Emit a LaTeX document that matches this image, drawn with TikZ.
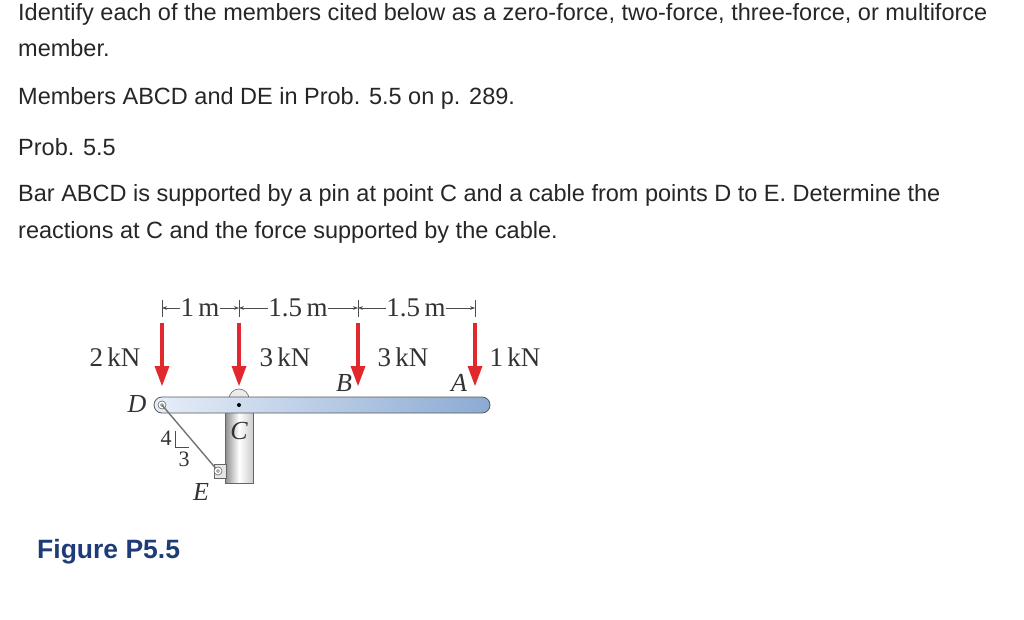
\documentclass[tikz,border=0pt]{standalone}
\usepackage{fontspec}
\setmainfont{Liberation Sans}
\newfontfamily\figfont{Liberation Serif}
\usetikzlibrary{arrows.meta}
\definecolor{fred}{RGB}{225,40,45}
\definecolor{barL}{RGB}{230,238,248}
\definecolor{barD}{RGB}{140,170,210}
\definecolor{figblue}{RGB}{30,60,120}
\begin{document}
\begin{tikzpicture}[x=1pt,y=-1pt,
  txt/.style={anchor=west,inner sep=0pt,font=\fontsize{23.5}{26}\selectfont,text=black!85},
  flab/.style={inner sep=0pt,font=\figfont\fontsize{27}{28}\selectfont,text=black!80},
  ilab/.style={flab,font=\figfont\itshape\fontsize{26}{28}\selectfont},
  force/.style={fred,line width=3.6pt},
  fhead/.style={fill=fred},
  dim/.style={black!70,line width=0.7pt}]
\useasboundingbox (0,0) rectangle (1024,620);
\node[txt] (t1) at (18,14) {Identify each of the members cited below as a zero-force, two-force, three-force, or multiforce};
\node[txt] (t2) at (18,48) {member.};
\node[txt] (t3) at (18,98) {Members ABCD and DE in Prob. 5.5 on p. 289.};
\node[txt] (t4) at (18,147) {Prob. 5.5};
\node[txt] (t5) at (18,195) {Bar ABCD is supported by a pin at point C and a cable from points D to E. Determine the};
\node[txt] (t6) at (18,232) {reactions at C and the force supported by the cable.};
\node[txt,font=\bfseries\fontsize{26.5}{28}\selectfont,text=figblue] (fig) at (37,552) {Figure P5.5};
% post
\shade[left color=black!45,right color=black!20,middle color=white,draw=black!60,line width=0.6pt] (225,405) rectangle (253,483);
% pin cap at C
\draw[black!60,fill=black!8,line width=0.6pt] (229,399) arc (180:360:10);
% bar
\shade[left color=barL,right color=barD,draw=black!65,line width=0.8pt,rounded corners=8pt] (154,397) rectangle (490,413);
\fill (239,405) circle (2);
% D pin
\draw[black!60,fill=white,line width=0.6pt] (162,405) circle (4);
\draw[black!60,line width=0.5pt] (162,405) circle (1.5);
\coordinate (D) at (162,405);
% E bracket
\draw[black!60,fill=black!10,line width=0.6pt] (214,464) rectangle (226,478);
\coordinate (E) at (218,471);
\draw[black!55,line width=1.4pt] (D) -- (E);
\draw[black!60,fill=white,line width=0.6pt] (E) circle (4);
\draw[black!60,line width=0.5pt] (E) circle (1.5);
% slope triangle
\draw[black!70,line width=0.7pt] (175,431) -- (175,447) -- (189,447);
\node[flab,font=\figfont\fontsize{22}{24}\selectfont] (n4) at (166,438) {4};
\node[flab,font=\figfont\fontsize{22}{24}\selectfont] (n3) at (184,459) {3};
% labels
\node[ilab] (lD) at (137,404) {D};
\node[ilab] (lC) at (239,431) {C};
\node[ilab] (lE) at (201,492) {E};
\node[ilab] (lB) at (344,383) {B};
\node[ilab] (lA) at (459,383) {A};
% forces
\foreach \x/\n in {162/1,239/2,358/3,475/4}{
  \coordinate (f\n) at (\x,323); \coordinate (f\n t) at (\x,386);
  \draw[force] (f\n) -- (\x,370);
  \fill[fhead] (\x-7.5,366) -- (\x+7.5,366) -- (f\n t) -- cycle;
}
\node[flab] (k1) at (115,357) {2\,kN};
\node[flab] (k2) at (285,357) {3\,kN};
\node[flab] (k3) at (403,357) {3\,kN};
\node[flab] (k4) at (515,357) {1\,kN};
% dimensions
\foreach \x in {162,239,358,475} \draw[dim] (\x,300) -- (\x,317);
\node[flab] (d1) at (200,308) {1\,m};
\node[flab] (d2) at (298,308) {1.5\,m};
\node[flab] (d3) at (416,308) {1.5\,m};
\draw[dim,-{Stealth[length=5pt]}] (d1.west) -- (162,308);
\draw[dim,-{Stealth[length=5pt]}] (d1.east) -- (239,308);
\draw[dim,-{Stealth[length=5pt]}] (d2.west) -- (239,308);
\draw[dim,-{Stealth[length=5pt]}] (d2.east) -- (358,308);
\draw[dim,-{Stealth[length=5pt]}] (d3.west) -- (358,308);
\draw[dim,-{Stealth[length=5pt]}] (d3.east) -- (475,308);
\end{tikzpicture}
\end{document}
